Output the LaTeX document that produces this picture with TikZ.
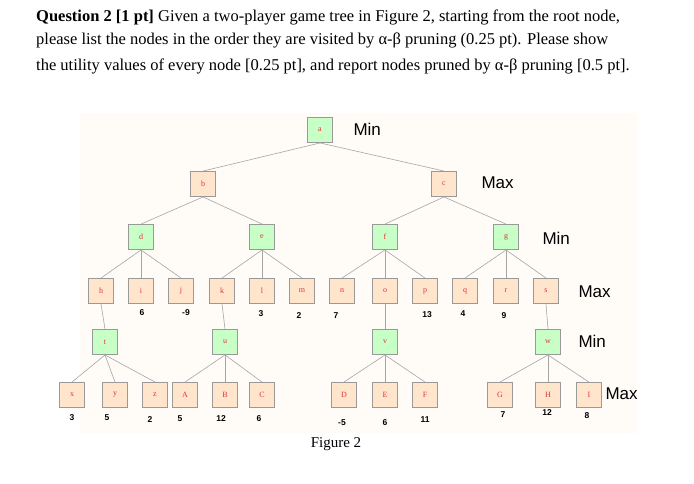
\documentclass[tikz,border=0pt]{standalone}
\usepackage{fontspec}
\setmainfont{Liberation Serif}
\newfontfamily\lblfont{Liberation Sans}
\begin{document}
\begin{tikzpicture}[x=1pt,y=-1pt,
  gbox/.style={draw=black!40,line width=0.9pt,fill=green!22!white,minimum size=25pt,inner sep=0pt,font=\fontsize{8}{9}\selectfont\color{red!85!black!80!white}},
  pbox/.style={draw=black!40,line width=0.9pt,fill=orange!20!white,minimum size=25pt,inner sep=0pt,font=\fontsize{8}{9}\selectfont\color{red!85!black!80!white}},
  val/.style={font=\lblfont\bfseries\fontsize{8.5}{9}\selectfont},
  lvl/.style={font=\lblfont\fontsize{17}{19}\selectfont,anchor=west},
  edge/.style={draw=black!35,line width=0.6pt},
  hdr/.style={anchor=west,font=\fontsize{16.5}{19}\selectfont,inner sep=0pt}]
\useasboundingbox (0,0) rectangle (694,483);
\fill[orange!3!white] (80,113) rectangle (637,433);
\node[hdr] (l1) at (36,17) {\textbf{Question 2 [1 pt]} Given a two-player game tree in Figure 2, starting from the root node,};
\node[hdr] (l2) at (36,40) {please list the nodes in the order they are visited by α-β pruning (0.25 pt). Please show};
\node[hdr] (l3) at (36,66) {the utility values of every node [0.25 pt], and report nodes pruned by α-β pruning [0.5 pt].};
% nodes
\node[gbox] (a) at (320,130) {a};
\node[pbox] (b) at (203,184) {b};
\node[pbox] (c) at (444,184) {c};
\node[gbox] (d) at (141,237) {d};
\node[gbox] (e) at (262,237) {e};
\node[gbox] (f) at (385,237) {f};
\node[gbox] (g) at (506,237) {g};
\foreach \n/\x in {h/101,i/141,j/181,k/222,l/262,m/302,n/342,o/385,p/425,q/465,r/506,s/546}
  \node[pbox] (\n) at (\x,291) {\n};
\foreach \n/\x in {t/105,u/225,v/385,w/548}
  \node[gbox] (\n) at (\x,342) {\n};
\foreach \n/\x in {x/72,y/115,z/155,A/185,B/225,C/262,D/344,E/385,F/425,G/500,H/548,I/589}
  \node[pbox] (\n) at (\x,395) {\n};
% edges
\foreach \p/\c in {a/b,a/c,b/d,b/e,c/f,c/g,d/h,d/i,d/j,e/k,e/l,e/m,f/n,f/o,f/p,g/q,g/r,g/s,h/t,k/u,o/v,s/w,t/x,t/y,t/z,u/A,u/B,u/C,v/D,v/E,v/F,w/G,w/H,w/I}
  \draw[edge] (\p.south) -- (\c.north);
% values
\foreach \t/\x/\y in {6/142/313,-9/186/313,3/261/314,2/299/316,7/336/316,13/427/315,4/463/314,9/504/316,
  3/72/418,5/107/418,2/150/420,5/180/419,12/221/419,6/259/419,-5/342/423,6/385/423,11/425/420,7/503/415,12/547/413,8/587/416}
  \node[val] at (\x,\y) {\t};
% level labels
\node[lvl] (m1) at (350,129) {Min};
\node[lvl] (m2) at (478,183) {Max};
\node[lvl] (m3) at (539,238) {Min};
\node[lvl] (m4) at (575,292) {Max};
\node[lvl] (m5) at (575,341) {Min};
\node[lvl] (m6) at (602,394) {Max};
\node[font=\fontsize{15}{17}\selectfont] (cap) at (336,444) {Figure 2};
\end{tikzpicture}
\end{document}
